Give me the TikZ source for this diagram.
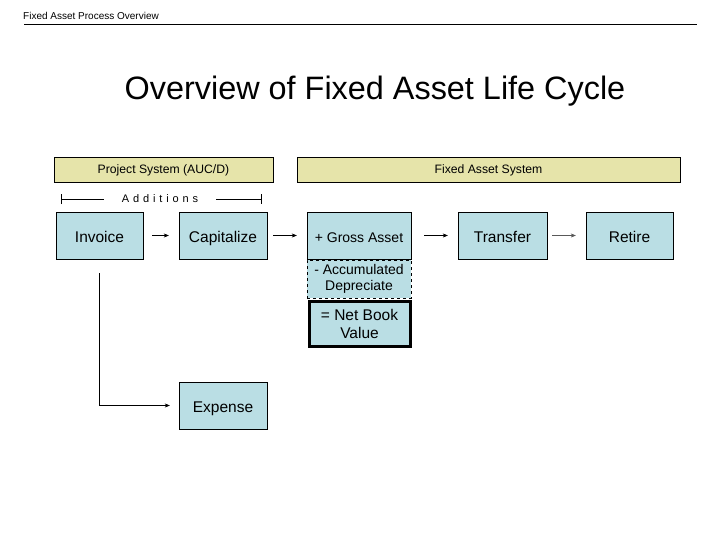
\documentclass[tikz,border=0pt]{standalone}
\usepackage{fontspec}
\setmainfont{Liberation Sans}
\usetikzlibrary{arrows.meta, positioning, calc}
\definecolor{boxblue}{RGB}{186,222,228}
\definecolor{barkhaki}{RGB}{230,228,170}
\tikzset{>={Stealth[length=5pt,width=4pt]}}
\tikzset{
  stepbox/.style={draw=black, fill=boxblue, thin, minimum height=47pt, inner sep=2pt, text height=14pt, text depth=0pt, font=\fontsize{15.5}{18}\selectfont},
  twoline/.style={text height=, text depth=, align=center},
  sysbar/.style={draw=black, fill=barkhaki, thin, minimum height=25pt, text height=9.5pt, text depth=1.5pt, font=\fontsize{12.2}{14}\selectfont},
  flow/.style={->, thin}
}

\begin{document}
\begin{tikzpicture}[x=1pt, y=-1pt]

			\useasboundingbox (0,0) rectangle (728,546);

			% header
			\node [anchor=west, inner sep=0pt, font=\fontsize{10}{12}\selectfont] (header) at (23,16) {Fixed Asset Process Overview};
			\coordinate (ruleL) at (24,24);
			\coordinate (ruleR) at (697,24);
			\draw [thick] (ruleL) -- (ruleR);

			\node [font=\fontsize{32.4}{38}\selectfont] (title) at (375,91) {Overview of Fixed Asset Life Cycle};

			% system bars
			\node [sysbar, minimum width=219pt] (projsys) at (163.5,169.5) {Project System (AUC/D)};
			\node [sysbar, minimum width=383pt] (fasys) at (488.5,169.5) {Fixed Asset System};

			% additions bracket
			\coordinate (addL) at (61,199);
			\coordinate (addR) at (261,199);
			\node [inner xsep=18pt, font=\fontsize{11}{13}\selectfont\addfontfeature{LetterSpace=35}] (additions) at (160,199) {Additions};
			\draw [{Bar[width=10pt]}-] (addL) -- (additions.west);
			\draw [-{Bar[width=10pt]}] (additions.east) -- (addR);

			% process boxes
			\node [stepbox, minimum width=87pt] (invoice) at (99.5,235.5) {Invoice};
			\node [stepbox, minimum width=88pt] (capitalize) at (223,235.5) {Capitalize};
			\node [stepbox, minimum width=104pt, font=\fontsize{14}{16}\selectfont] (gross) at (359,235.5) {+ Gross Asset};
			\node [stepbox, minimum width=89pt] (transfer) at (502.5,235.5) {Transfer};
			\node [stepbox, minimum width=87pt] (retire) at (629.5,235.5) {Retire};

			\node [stepbox, twoline, dashed, minimum width=104pt, minimum height=38pt, font=\fontsize{14}{16}\selectfont] (accum) at (359,279) {- Accumulated\\Depreciate};
			\node [stepbox, twoline, line width=3pt, minimum width=101pt, minimum height=45pt] (netbook) at (359.5,323.5) {= Net Book\\Value};

			\node [stepbox, minimum width=88pt] (expense) at (223,405.5) {Expense};

			% flow
			\draw [flow, shorten <=9pt, shorten >=10pt] (invoice) -- (capitalize);
			\draw [flow, shorten <=6pt, shorten >=10pt] (capitalize) -- (gross);
			\draw [flow, shorten <=13pt, shorten >=10pt] (gross) -- (transfer);
			\draw [flow, gray!70!black, shorten <=5pt, shorten >=10pt] (transfer) -- (retire);
			\draw [flow, shorten <=14pt, shorten >=9pt] (invoice.south) |- (expense.west);

\end{tikzpicture}
\end{document}
